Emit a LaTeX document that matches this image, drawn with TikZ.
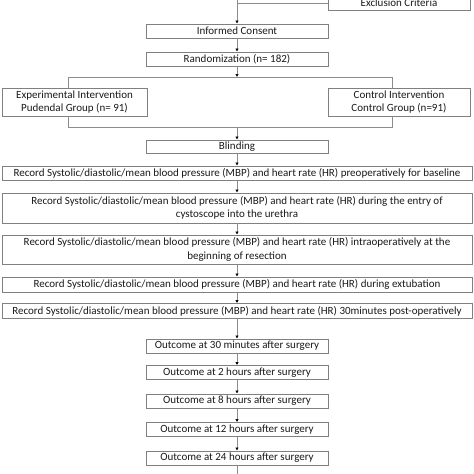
\documentclass[tikz,border=0pt]{standalone}
\usepackage{fontspec}
\setmainfont{Carlito}
\usetikzlibrary{arrows.meta}
\definecolor{boxgray}{HTML}{808080}
\definecolor{linegray}{HTML}{8C8C8C}
\definecolor{txt}{HTML}{1A1A1A}
\begin{document}
\begin{tikzpicture}[x=1pt,y=-1pt,
  box/.style={draw=boxgray, line width=0.9pt, fill=white, inner sep=0pt, align=center,
    font=\fontsize{11}{13.5}\selectfont, text=txt},
  flow/.style={draw=linegray, line width=0.9pt},
  arr/.style={flow, -{Latex[color=black,length=3pt,width=3.5pt]}}]
\useasboundingbox (0,0) rectangle (474,474);

\node[box, minimum width=142, minimum height=14] (excl) at (399,3) {Exclusion Criteria};
\node[box, minimum width=182, minimum height=14] (consent) at (237,31) {Informed Consent};
\node[box, minimum width=182, minimum height=14] (rand) at (237,59) {Randomization (n= 182)};
\node[box, minimum width=145, minimum height=28] (exp) at (74.5,102) {Experimental Intervention\\Pudendal Group (n= 91)};
\node[box, minimum width=142, minimum height=28] (ctrl) at (399,102) {Control Intervention\\Control Group (n=91)};
\node[box, minimum width=182, minimum height=13] (blind) at (237,146.5) {Blinding};
\node[box, minimum width=470, minimum height=14] (rec1) at (237,173) {Record Systolic/diastolic/mean blood pressure (MBP) and heart rate (HR) preoperatively for baseline};
\node[box, minimum width=470, minimum height=30] (rec2) at (237,208) {Record Systolic/diastolic/mean blood pressure (MBP) and heart rate (HR) during the entry of\\cystoscope into the urethra};
\node[box, minimum width=470, minimum height=29] (rec3) at (237,249.5) {Record Systolic/diastolic/mean blood pressure (MBP) and heart rate (HR) intraoperatively at the\\beginning of resection};
\node[box, minimum width=470, minimum height=15] (rec4) at (237,284.5) {Record Systolic/diastolic/mean blood pressure (MBP) and heart rate (HR) during extubation};
\node[box, minimum width=470, minimum height=15] (rec5) at (237,311) {Record Systolic/diastolic/mean blood pressure (MBP) and heart rate (HR) 30minutes post-operatively};
\node[box, minimum width=182, minimum height=14] (out30) at (237,346) {Outcome at 30 minutes after surgery};
\node[box, minimum width=182, minimum height=14] (out2) at (237,372.5) {Outcome at 2 hours after surgery};
\node[box, minimum width=182, minimum height=14] (out8) at (237,401) {Outcome at 8 hours after surgery};
\node[box, minimum width=182, minimum height=14] (out12) at (237,429.5) {Outcome at 12 hours after surgery};
\node[box, minimum width=182, minimum height=14] (out24) at (237,458) {Outcome at 24 hours after surgery};

\coordinate (top) at (237,0);
\coordinate (tj) at (237,3);
\coordinate (split) at (237,77);
\coordinate (sl) at (68,77);
\coordinate (sr) at (392,77);
\coordinate (ml) at (68,127);
\coordinate (mr) at (392,127);
\coordinate (mm) at (237,127);
\coordinate (bot) at (237,474);

\draw[arr] (top) -- (consent);
\draw[flow] (tj) -- (tj -| excl.west);
\draw[arr] (consent) -- (rand);
\draw[arr] (rand) -- (split);
\draw[flow] (sl |- exp.north) -- (sl) -- (sr) -- (sr |- ctrl.north);
\draw[flow] (ml |- exp.south) -- (ml) -- (mr) -- (mr |- ctrl.south);
\draw[arr] (mm) -- (blind);
\draw[arr] (blind) -- (rec1);
\draw[arr] (rec1) -- (rec2);
\draw[arr] (rec2) -- (rec3);
\draw[arr] (rec3) -- (rec4);
\draw[arr] (rec4) -- (rec5);
\draw[arr] (rec5) -- (out30);
\draw[arr] (out30) -- (out2);
\draw[arr] (out2) -- (out8);
\draw[arr] (out8) -- (out12);
\draw[arr] (out12) -- (out24);
\draw[flow] (out24) -- (bot);
\end{tikzpicture}
\end{document}
